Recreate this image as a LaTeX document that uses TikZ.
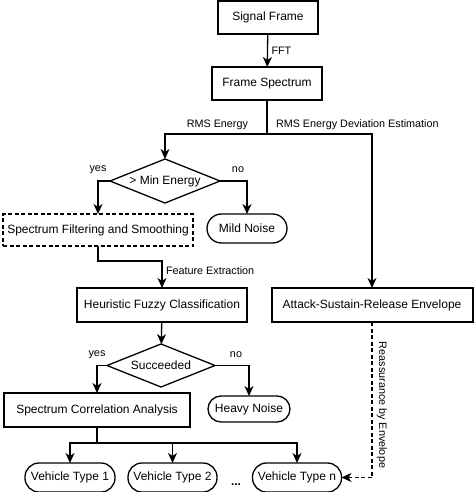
\documentclass[tikz,border=0pt]{standalone}
\usepackage{fontspec}
\setmainfont{Liberation Sans}
\usetikzlibrary{arrows.meta,shapes.geometric,calc}
\begin{document}
\begin{tikzpicture}[x=1pt,y=-1pt,
  every node/.style={inner sep=0pt, outer sep=0pt},
  boxtext/.style={font=\fontsize{12}{14}\selectfont},
  lbl/.style={font=\fontsize{10.8}{13}\selectfont},
  procbox/.style={boxtext, draw, line width=1.3pt, rectangle, align=center},
  dashbox/.style={procbox, dashed, dash pattern=on 4pt off 2.5pt},
  thickbox/.style={procbox, line width=2pt},
  termbox/.style={boxtext, draw, line width=1.3pt, rectangle, rounded corners=#1},
  decision/.style={boxtext, draw, line width=1.3pt, diamond, aspect=2.5},
  conn/.style={line width=1.3pt},
  arr/.style={conn, -{Stealth[length=10pt,width=9pt,inset=3pt]}}
]
\useasboundingbox (0,0) rectangle (474,492);

\node[procbox, minimum width=100pt, minimum height=33pt] (sf) at (268,17.5) {Signal Frame};
\node[procbox, minimum width=110pt, minimum height=33pt] (fs) at (267,83.5) {Frame Spectrum};
\coordinate (split) at (267,134);
\node[decision, minimum width=110pt, minimum height=44pt] (d1) at (165,181) {> Min Energy};
\node[dashbox, minimum width=190pt, minimum height=32pt] (sfs) at (98,230) {Spectrum Filtering and Smoothing};
\node[termbox=14.5pt, minimum width=80pt, minimum height=29pt] (mild) at (247,228.5) {Mild Noise};
\coordinate (fe) at (162,261);
\node[procbox, minimum width=170pt, minimum height=34pt] (heur) at (162,305) {Heuristic Fuzzy Classification};
\node[thickbox, minimum width=201pt, minimum height=34pt] (asr) at (372,305) {Attack-Sustain-Release Envelope};
\node[decision, minimum width=108pt, minimum height=43pt] (d2) at (161,365.5) {Succeeded};
\node[procbox, minimum width=186pt, minimum height=34pt] (sca) at (97,410) {Spectrum Correlation Analysis};
\node[termbox=13pt, minimum width=82pt, minimum height=26pt] (heavy) at (249,409) {Heavy Noise};
\coordinate (vs) at (97,443);
\node[termbox=14pt, minimum width=90pt, minimum height=29pt] (v1) at (70,477.5) {Vehicle Type 1};
\node[termbox=14pt, minimum width=89pt, minimum height=29pt] (v2) at (172.5,477.5) {Vehicle Type 2};
\node[termbox=14pt, minimum width=89pt, minimum height=29pt] (vn) at (297,477.5) {Vehicle Type n};
\node[boxtext, anchor=base, font=\fontsize{12}{14}\selectfont\bfseries] (dots) at (236,485) {...};

\draw[arr] (sf) -- node[lbl, right, xshift=4pt] {FFT} (fs);
\draw[conn] (fs) -- (split);
\draw[arr] (split) -| (d1.north);
\draw[arr] (split) -| (asr.north);
\node[lbl, anchor=base east] (rmsl) at (248,127.5) {RMS Energy};
\node[lbl, anchor=base west] (rmsr) at (276,127.5) {RMS Energy Deviation Estimation};

\draw[arr] (d1.west) -| (sfs.north);
\draw[arr] (d1.east) -| (mild.north);
\node[lbl] (yes1) at (98,170) {yes};
\node[lbl] (no1) at (238,170) {no};

\draw[arr] (sfs.south) |- (fe) -- (heur.north);
\node[lbl, anchor=west] (fel) at (166,271) {Feature Extraction};

\draw[arr] (heur) -- (d2);
\draw[arr] (d2.west) -| (sca.north);
\draw[arr] (d2.east) -| (heavy.north);
\node[lbl] (yes2) at (97,355) {yes};
\node[lbl] (no2) at (236,355) {no};

\draw[conn] (sca.south) -- (vs);
\draw[arr] (vs) -| (v1.north);
\draw[arr] (vs) -| (v2.north);
\draw[arr] (vs) -| (vn.north);

\draw[arr, dashed, dash pattern=on 4pt off 2.5pt] (asr.south) |- (vn.east);
\node[lbl, rotate=-90] (reas) at (382,405) {Reassurance by Envelope};
\end{tikzpicture}
\end{document}
